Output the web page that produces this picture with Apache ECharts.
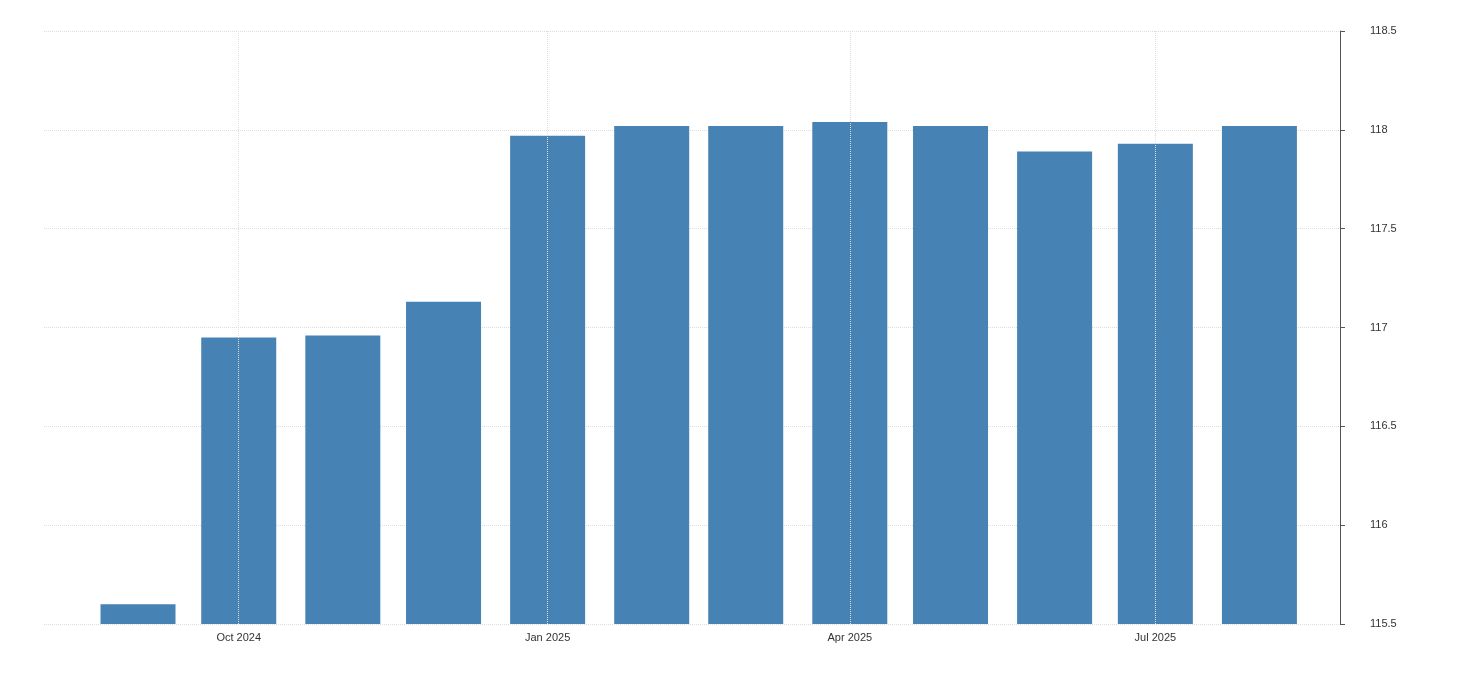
<!DOCTYPE html>
<html><head><meta charset="utf-8">
<script src="https://cdn.jsdelivr.net/npm/echarts@6/dist/echarts.min.js"></script>
<style>html,body{margin:0;padding:0;background:#fff}#c{width:1460px;height:680px}</style>
</head><body><div id="c"></div>
<script>
const months = ['2024-09-01','2024-10-01','2024-11-01','2024-12-01','2025-01-01','2025-02-01','2025-03-01','2025-04-01','2025-05-01','2025-06-01','2025-07-01','2025-08-01'];
const values = [115.6,116.95,116.96,117.13,117.97,118.02,118.02,118.04,118.02,117.89,117.93,118.02];
const tickDates = ['2024-10-01','2025-01-01','2025-04-01','2025-07-01'];
const tickLabels = ['Oct 2024','Jan 2025','Apr 2025','Jul 2025'];
const ts = d => new Date(d + 'T00:00:00Z').getTime();
const tickTs = tickDates.map(ts);
const chart = echarts.init(document.getElementById('c'));
const xMin = ts('2024-08-04'), xMax = ts('2025-08-25');
chart.setOption({
  animation:false,
  grid:{left:44,right:120,top:31,bottom:56},
  xAxis:{type:'value',min:xMin,max:xMax,
    axisLine:{show:false},
    axisTick:{show:false,customValues:tickTs},
    axisLabel:{customValues:tickTs,color:'#333',fontSize:11,fontFamily:'Arial',
      formatter:v=>{const i=tickTs.findIndex(t=>Math.abs(t-v)<86400000);return i>=0?tickLabels[i]:'';}},
    splitLine:{show:false}},
  yAxis:{type:'value',position:'right',min:115.5,max:118.5,interval:0.5,
    axisLabel:{color:'#333',fontSize:11,fontFamily:'Arial',margin:30},
    splitLine:{lineStyle:{color:'#ddd',type:'dotted'}}},
  series:[
    {type:'line',data:[],silent:true,
      markLine:{symbol:'none',silent:true,label:{show:false},
        lineStyle:{color:'#ddd',type:'dotted',width:1},
        data:tickTs.map(t=>({xAxis:t}))}},
    {type:'bar',barWidth:75,itemStyle:{color:'#4682b4'},
    data:months.map((m,i)=>[ts(m),values[i]])}]
});
</script></body></html>
